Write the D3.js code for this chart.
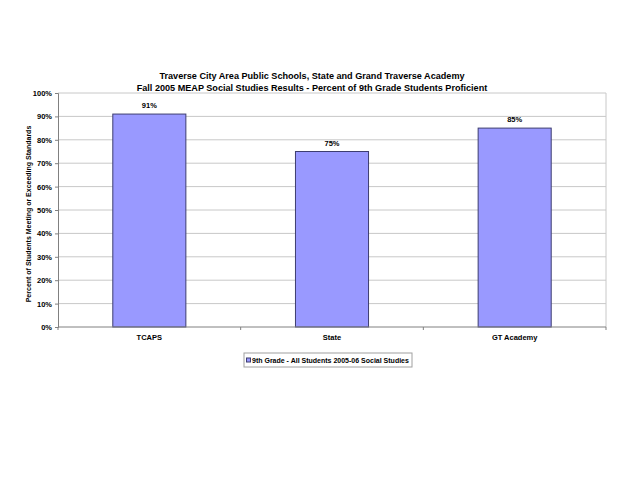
<!DOCTYPE html>
<html><head><meta charset="utf-8">
<script src="https://cdn.jsdelivr.net/npm/d3@7"></script>
<style>
html,body{margin:0;padding:0;background:#fff;}
text{font-family:"Liberation Sans",Arial,sans-serif;font-weight:bold;fill:#000;}
</style></head>
<body><svg id="c" width="638" height="478"></svg>
<script>
const categories = ["TCAPS", "State", "GT Academy"];
const values = [91, 75, 85];
const yTicks = [0, 10, 20, 30, 40, 50, 60, 70, 80, 90, 100];
const seriesName = "9th Grade - All Students 2005-06 Social Studies";
const titleLines = ["Traverse City Area Public Schools, State and Grand Traverse Academy",
  "Fall 2005 MEAP Social Studies Results - Percent of 9th Grade Students Proficient"];
const yLabel = "Percent of Students Meeting or Exceeding Standards";

const svg = d3.select("#c");
const L = 58, R = 606, T = 93, B = 327;
const x = d3.scaleBand().domain(categories).range([L, R]).paddingInner(0.6).paddingOuter(0.3);
const y = d3.scaleLinear().domain([0, 100]).range([B, T]);

// gridlines
svg.append("g").selectAll("line").data(yTicks.filter(d => d > 0)).join("line")
  .attr("x1", L).attr("x2", R).attr("y1", d => y(d)).attr("y2", d => y(d))
  .attr("stroke", "#c8c8c8").attr("stroke-width", 1);
// right border
svg.append("line").attr("x1", R).attr("x2", R).attr("y1", T).attr("y2", B)
  .attr("stroke", "#c8c8c8");

// bars
svg.append("g").selectAll("rect").data(values).join("rect")
  .attr("x", (d, i) => x(categories[i])).attr("width", x.bandwidth())
  .attr("y", d => y(d)).attr("height", d => B - y(d))
  .attr("fill", "#9999ff").attr("stroke", "#3d3d70").attr("stroke-width", 1);

// value labels
svg.append("g").selectAll("text").data(values).join("text")
  .attr("x", (d, i) => x(categories[i]) + x.bandwidth() / 2)
  .attr("y", d => y(d) - 6).attr("text-anchor", "middle")
  .attr("font-size", 7.5).text(d => d + "%");

// y axis
const yAxis = d3.axisLeft(y).tickValues(yTicks).tickFormat(d => d + "%").tickSize(3).tickPadding(3);
const ga = svg.append("g").attr("transform", `translate(${L},0)`).call(yAxis);
ga.select(".domain").attr("stroke", "#808080");
ga.selectAll(".tick line").attr("stroke", "#808080");
ga.selectAll(".tick text").attr("font-size", 7.5).attr("font-family", "Liberation Sans, Arial").attr("font-weight", "bold").attr("fill", "#000");

// x axis
const xb = d3.scaleLinear().domain([0, categories.length]).range([L, R]);
const gx = svg.append("g").attr("transform", `translate(0,${B})`);
gx.append("line").attr("x1", L).attr("x2", R).attr("stroke", "#808080");
gx.selectAll("line.tk").data(d3.range(categories.length + 1)).join("line").attr("class", "tk")
  .attr("x1", d => xb(d)).attr("x2", d => xb(d)).attr("y1", 0).attr("y2", 3).attr("stroke", "#808080");
gx.selectAll("text").data(categories).join("text")
  .attr("x", d => x(d) + x.bandwidth() / 2).attr("y", 13).attr("text-anchor", "middle")
  .attr("font-size", 7.5).text(d => d);

// title
svg.append("g").selectAll("text").data(titleLines).join("text")
  .attr("x", 312).attr("y", (d, i) => 79 + i * 12).attr("text-anchor", "middle")
  .attr("font-size", 9.1).text(d => d);

// y label
svg.append("text").attr("transform", "translate(31,214) rotate(-90)")
  .attr("text-anchor", "middle").attr("font-size", 7).text(yLabel);

// legend
const lg = svg.append("g").attr("transform", "translate(244,353)");
lg.append("rect").attr("width", 168).attr("height", 14).attr("fill", "#fff").attr("stroke", "#a0a0a0");
lg.append("rect").attr("x", 2.5).attr("y", 5).attr("width", 4).attr("height", 4)
  .attr("fill", "#9999ff").attr("stroke", "#3d3d70");
lg.append("text").attr("x", 8).attr("y", 10).attr("font-size", 7).text(seriesName);
</script></body></html>
